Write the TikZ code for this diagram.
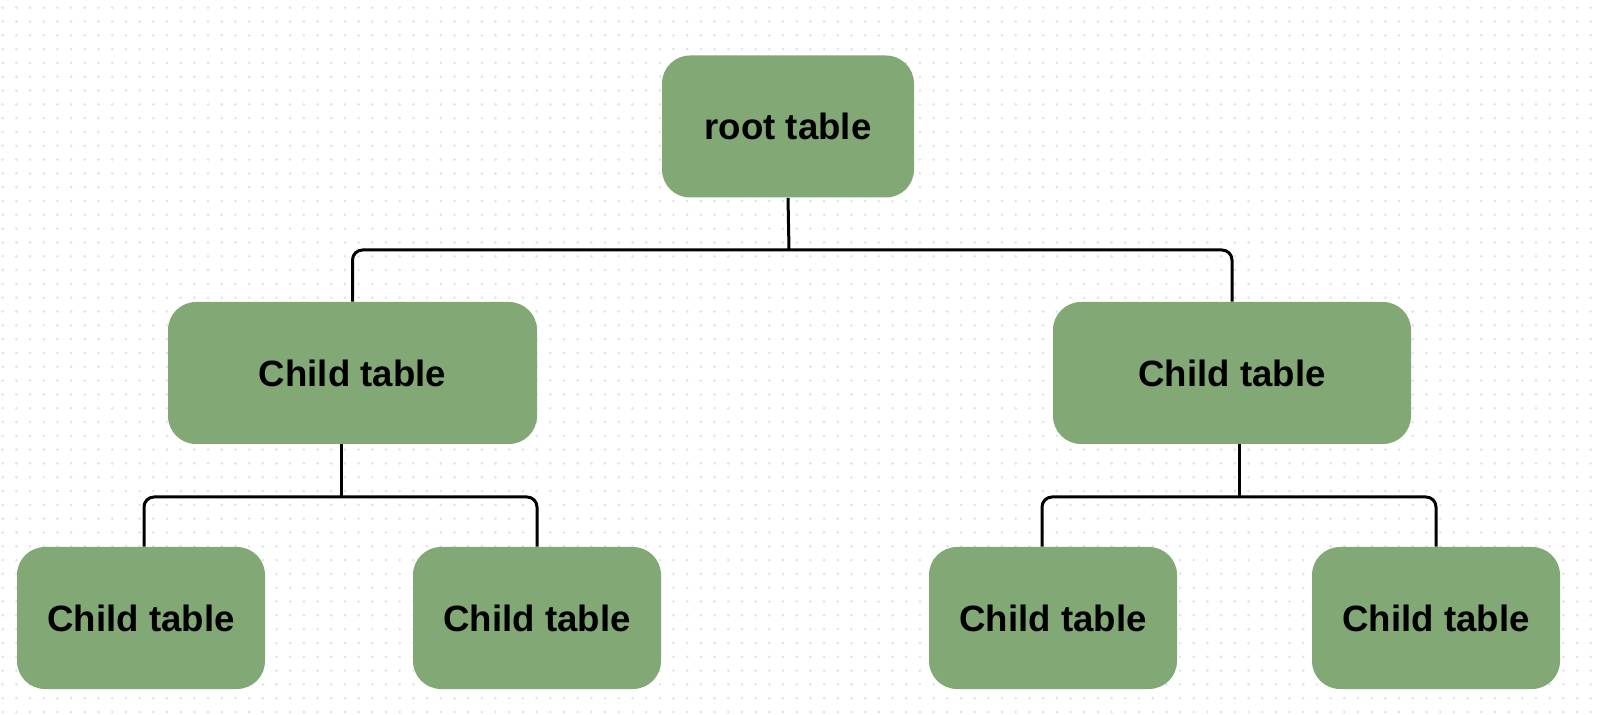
\documentclass[tikz,border=0pt]{standalone}
\usepackage{fontspec}
\setmainfont{Liberation Sans}
\definecolor{boxgreen}{RGB}{130,168,118}
\definecolor{dotcol}{RGB}{222,225,234}
\begin{document}
\begin{tikzpicture}[x=0.5pt,y=-0.5pt,
  tbl/.style={draw=none,fill=boxgreen,rounded corners=14pt,inner sep=0pt,
    font=\fontsize{18.3pt}{22pt}\selectfont\bfseries,text=black,
    minimum height=71pt},
  conn/.style={draw=black,line width=1.5pt,rounded corners=5pt}]
\useasboundingbox[fill=white] (0,0) rectangle (1600,715);
% dotted background
\foreach \i in {0,...,116}{
  \foreach \j in {0,...,51}{
    \fill[dotcol] (2.7+13.69*\i, 7.7+13.81*\j) circle[radius=1.4];
  }
}
% nodes
\node[tbl,minimum width=126pt] (root) at (788,126.5) {root table};
\node[tbl,minimum width=184.5pt] (lc) at (352.5,373) {Child table};
\node[tbl,minimum width=179pt] (rc) at (1232,373) {Child table};
\node[tbl,minimum width=124pt] (b1) at (141,618) {Child table};
\node[tbl,minimum width=124pt] (b2) at (537,618) {Child table};
\node[tbl,minimum width=124pt] (b3) at (1053,618) {Child table};
\node[tbl,minimum width=124pt] (b4) at (1436,618) {Child table};
% junctions
\coordinate (j1) at (789,250);
\coordinate (j2) at (341,497);
\coordinate (j3) at (1239,497);
% connectors
\draw[conn] (root.south) -- (j1);
\draw[conn] (j1) -| (lc.north);
\draw[conn] (j1) -| (rc.north);
\draw[conn] ([xshift=-5.75pt]lc.south) -- (j2);
\draw[conn] (j2) -| ([xshift=1.5pt]b1.north);
\draw[conn] (j2) -| (b2.north);
\draw[conn] ([xshift=3.5pt]rc.south) -- (j3);
\draw[conn] (j3) -| ([xshift=-5.5pt]b3.north);
\draw[conn] (j3) -| (b4.north);
\end{tikzpicture}
\end{document}
